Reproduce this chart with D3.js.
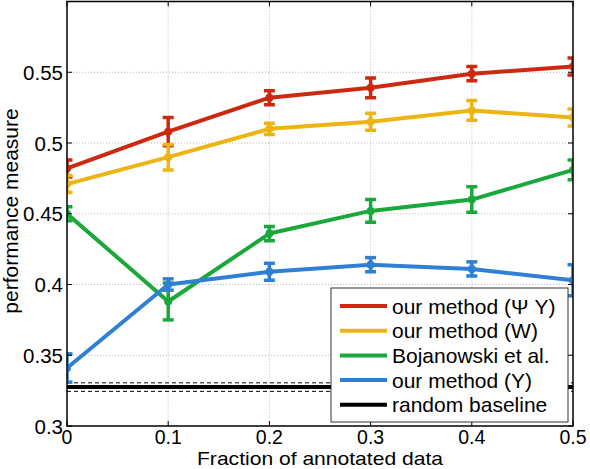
<!DOCTYPE html>
<html>
<head>
<meta charset="utf-8">
<script src="https://cdn.jsdelivr.net/npm/d3@7"></script>
<style>
  body { margin: 0; background: #fff; }
  svg { display: block; font-family: "Liberation Sans", Arial, sans-serif; }
  .grid line { stroke: #b8b8b8; stroke-dasharray: 1,2; stroke-width: 1; }
</style>
</head>
<body>
<div id="chart"></div>
<script>
// fraction of annotated data
const fractions = [0, 0.1, 0.2, 0.3, 0.4, 0.5];

const psiY     = [0.482, 0.508, 0.532, 0.539, 0.549, 0.554];
const psiYErr  = [0.006, 0.010, 0.005, 0.007, 0.005, 0.006];
const methW    = [0.471, 0.490, 0.510, 0.515, 0.523, 0.518];
const methWErr = [0.006, 0.009, 0.004, 0.006, 0.007, 0.006];
const bojan    = [0.450, 0.388, 0.436, 0.452, 0.460, 0.481];
const bojanErr = [0.005, 0.013, 0.005, 0.008, 0.009, 0.007];
const methY    = [0.341, 0.400, 0.409, 0.414, 0.411, 0.403];
const methYErr = [0.010, 0.004, 0.006, 0.005, 0.005, 0.011];

const baseline = 0.3275;
const baselineErr = 0.003;

const xTicks = [0, 0.1, 0.2, 0.3, 0.4, 0.5];
const yTicks = [0.3, 0.35, 0.4, 0.45, 0.5, 0.55];

const series = [
  { name: 'our method (\u03A8 Y)', color: '#cc2a10', values: psiY, err: psiYErr },
  { name: 'our method (W)', color: '#ecb514', values: methW, err: methWErr },
  { name: 'Bojanowski et al.', color: '#1ba83a', values: bojan, err: bojanErr },
  { name: 'our method (Y)', color: '#2f80d4', values: methY, err: methYErr }
];

const width = 590, height = 469;
const margin = { top: 1.5, right: 17, bottom: 43, left: 67 };
const iw = width - margin.left - margin.right;
const ih = height - margin.top - margin.bottom;

const svg = d3.select('#chart').append('svg')
  .attr('width', width)
  .attr('height', height);

const x = d3.scaleLinear().domain([0, 0.5]).range([0, iw]);
const y = d3.scaleLinear().domain([0.3, 0.6]).range([ih, 0]);

const g = svg.append('g').attr('transform', `translate(${margin.left},${margin.top})`);

svg.append('defs').append('clipPath').attr('id', 'clip')
  .append('rect').attr('width', iw).attr('height', ih);

// grid
const grid = g.append('g').attr('class', 'grid');
grid.selectAll('.gx').data(xTicks.slice(1, -1)).enter().append('line')
  .attr('x1', d => x(d)).attr('x2', d => x(d))
  .attr('y1', 0).attr('y2', ih);
grid.selectAll('.gy').data(yTicks.slice(1)).enter().append('line')
  .attr('y1', d => y(d)).attr('y2', d => y(d))
  .attr('x1', 0).attr('x2', iw);

const plot = g.append('g').attr('clip-path', 'url(#clip)');

// random baseline
plot.append('line')
  .attr('x1', 0).attr('x2', iw)
  .attr('y1', y(baseline)).attr('y2', y(baseline))
  .attr('stroke', '#000').attr('stroke-width', 4);
[baseline - baselineErr, baseline + baselineErr].forEach(v => {
  plot.append('line')
    .attr('x1', 0).attr('x2', iw)
    .attr('y1', y(v)).attr('y2', y(v))
    .attr('stroke', '#000').attr('stroke-width', 1)
    .attr('stroke-dasharray', '4,3');
});

const line = d3.line().x((d, i) => x(fractions[i])).y(d => y(d));

series.forEach(s => {
  const sg = plot.append('g');
  sg.append('path')
    .datum(s.values)
    .attr('d', line)
    .attr('fill', 'none')
    .attr('stroke', s.color)
    .attr('stroke-width', 4)
    .attr('stroke-linejoin', 'round');

  const eb = sg.selectAll('.eb').data(s.values).enter().append('g');
  eb.append('line')
    .attr('x1', (d, i) => x(fractions[i])).attr('x2', (d, i) => x(fractions[i]))
    .attr('y1', (d, i) => y(d - s.err[i])).attr('y2', (d, i) => y(d + s.err[i]))
    .attr('stroke', s.color).attr('stroke-width', 3.5);
  [-1, 1].forEach(sign => {
    eb.append('line')
      .attr('x1', (d, i) => x(fractions[i]) - 5.5).attr('x2', (d, i) => x(fractions[i]) + 5.5)
      .attr('y1', (d, i) => y(d + sign * s.err[i])).attr('y2', (d, i) => y(d + sign * s.err[i]))
      .attr('stroke', s.color).attr('stroke-width', 3.5);
  });
  eb.append('circle')
    .attr('cx', (d, i) => x(fractions[i]))
    .attr('cy', d => y(d))
    .attr('r', 4)
    .attr('fill', s.color);
});

// frame
g.append('rect').attr('width', iw).attr('height', ih)
  .attr('fill', 'none').attr('stroke', '#000').attr('stroke-width', 1.5);

// ticks
const tl = 5;
xTicks.forEach(t => {
  g.append('line').attr('x1', x(t)).attr('x2', x(t)).attr('y1', ih).attr('y2', ih - tl).attr('stroke', '#000');
  g.append('line').attr('x1', x(t)).attr('x2', x(t)).attr('y1', 0).attr('y2', tl).attr('stroke', '#000');
});
yTicks.forEach(t => {
  g.append('line').attr('y1', y(t)).attr('y2', y(t)).attr('x1', 0).attr('x2', tl).attr('stroke', '#000');
  g.append('line').attr('y1', y(t)).attr('y2', y(t)).attr('x1', iw).attr('x2', iw - tl).attr('stroke', '#000');
});

const fmt = d => d3.format('')(+d.toFixed(2));

g.selectAll('.xl').data(xTicks).enter().append('text')
  .attr('x', d => x(d)).attr('y', ih + 17.5)
  .attr('text-anchor', 'middle')
  .attr('font-size', 19.5)
  .text(fmt);

g.selectAll('.yl').data(yTicks).enter().append('text')
  .attr('x', -4).attr('y', d => y(d) + 7.5)
  .attr('text-anchor', 'end')
  .attr('font-size', 20.5)
  .text(fmt);

svg.append('text')
  .attr('x', margin.left + iw / 2).attr('y', 464.8)
  .attr('text-anchor', 'middle')
  .attr('font-size', 19)
  .attr('textLength', 246)
  .attr('lengthAdjust', 'spacingAndGlyphs')
  .text('Fraction of annotated data');

svg.append('text')
  .attr('transform', 'translate(18,211) rotate(-90)')
  .attr('text-anchor', 'middle')
  .attr('font-size', 21)
  .text('performance measure');

// legend
const legItems = series.map(s => ({ name: s.name, color: s.color }))
  .concat([{ name: 'random baseline', color: '#000' }]);
const leg = svg.append('g').attr('transform', 'translate(331,288)');
leg.append('rect').attr('width', 237).attr('height', 134)
  .attr('fill', '#fff').attr('stroke', '#333').attr('stroke-width', 1);
legItems.forEach((d, i) => {
  const ly = 18 + i * 24.7;
  leg.append('line').attr('x1', 9).attr('x2', 56).attr('y1', ly).attr('y2', ly)
    .attr('stroke', d.color).attr('stroke-width', 4);
  leg.append('text').attr('x', 61).attr('y', ly + 7.5)
    .attr('font-size', 21)
    .text(d.name);
});
</script>
</body>
</html>
